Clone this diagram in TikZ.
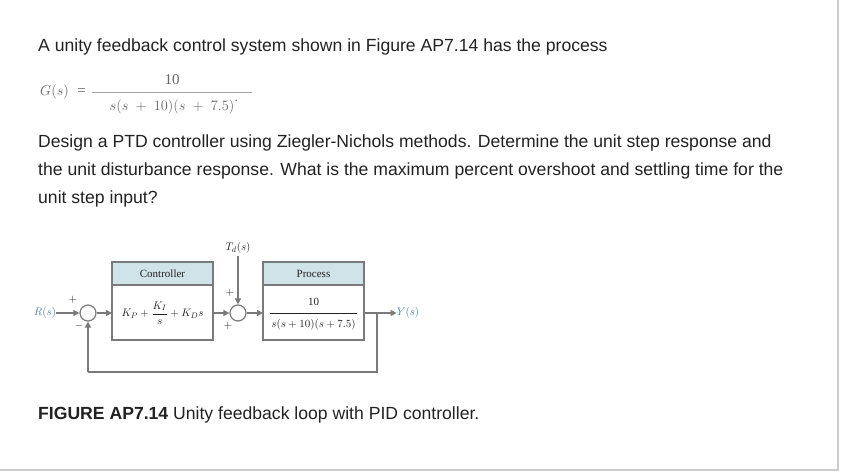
\documentclass[tikz,border=0pt]{standalone}
\usepackage{fontspec}
\setmainfont{Liberation Sans}
\newfontfamily\serif{Liberation Serif}
\usetikzlibrary{arrows.meta}
\definecolor{hdr}{HTML}{CFE3E8}
\definecolor{bord}{HTML}{7A7A7A}
\definecolor{lbl}{HTML}{4F7FA8}
\definecolor{txt}{HTML}{222222}
\tikzset{
 para/.style={anchor=base west,inner sep=0pt,font=\fontsize{17.6}{20}\selectfont,text=txt},
 ser/.style={inner sep=0pt,font=\serif\fontsize{11}{13}\selectfont,text=txt},
 eq/.style={inner sep=0pt,font=\serif\fontsize{15}{17}\selectfont,text=gray!80!black},
 blk/.style={draw=bord,line width=1.2pt},
 sumc/.style={circle,draw=bord,line width=1.2pt,minimum size=16pt,inner sep=0pt},
 sig/.style={draw=bord,line width=1.5pt,-{Triangle[length=6pt,width=6pt]}},
 ln/.style={draw=bord,line width=1.5pt}
}
\begin{document}
\begin{tikzpicture}[x=1pt,y=-1pt]
\useasboundingbox (0,0) rectangle (841,473);
\draw[gray!40,line width=1.5pt] (838,0) -- (838,470) -- (0,470);
\node[para] (l1) at (38,52) {A unity feedback control system shown in Figure AP7.14 has the process};
\node[eq,anchor=west] (g) at (40,92) {$G(s)$\;\;=};
\node[eq] (gn) at (172,80) {10};
\node[eq] (gd) at (172,106) {$s(s\;+\;10)(s\;+\;7.5)$\rlap{$^{\textstyle\cdot}$}};
\draw[gray!70,line width=0.8pt] (92,92) -- (252,92);
\node[para] (l2) at (38,148) {Design a PTD controller using Ziegler-Nichols methods. Determine the unit step response and};
\node[para] (l3) at (38,176) {the unit disturbance response. What is the maximum percent overshoot and settling time for the};
\node[para] (l4) at (38,204) {unit step input?};
% diagram
\node[ser,text=lbl] (R) at (45,313) {$R(s)$};
\node[sumc] (s1) at (88,313) {};
\draw[blk,fill=hdr] (112,262) rectangle (213,285);
\draw[blk] (112,285) rectangle (213,340);
\node[ser] (ch) at (162.5,273.5) {Controller};
\node[ser] (cb) at (162.5,313) {$K_P+\displaystyle\frac{K_I}{s}+K_Ds$};
\coordinate (cin) at (112,313); \coordinate (cout) at (213,313);
\node[sumc] (s2) at (238,313) {};
\node[ser] (Td) at (238,248) {$T_d(s)$};
\draw[blk,fill=hdr] (263,262) rectangle (364,285);
\draw[blk] (263,285) rectangle (364,340);
\node[ser] (ph) at (313.5,273.5) {Process};
\node[ser] (pn) at (313.5,302) {10};
\draw[txt,line width=0.6pt] (270,313) -- (357,313);
\node[ser] (pd) at (313.5,325) {$s(s+10)(s+7.5)$};
\coordinate (pin) at (263,313); \coordinate (pout) at (364,313);
\node[ser,text=lbl] (Y) at (408,313) {$Y(s)$};
\coordinate (br) at (377,313);
\coordinate (fb) at (377,372);
\coordinate (fb2) at (88,372);
\node[ser] at (73,300) {$+$};
\node[ser] at (79,326) {$-$};
\node[ser] at (230,293) {$+$};
\node[ser] at (228,326) {$+$};
\draw[sig] (R.east) -- (s1);
\draw[sig] (s1) -- (cin);
\draw[sig] (cout) -- (s2);
\draw[sig] (Td.south) ++(0,2) -- (s2.north);
\draw[sig] (s2) -- (pin);
\draw[sig] (pout) -- (Y.west);
\draw[ln] (br) -- (fb) -- (fb2);
\draw[sig] (fb2) -- (s1.south);
\node[para] (cap) at (38,419) {\textbf{FIGURE AP7.14} Unity feedback loop with PID controller.};
\end{tikzpicture}
\end{document}
